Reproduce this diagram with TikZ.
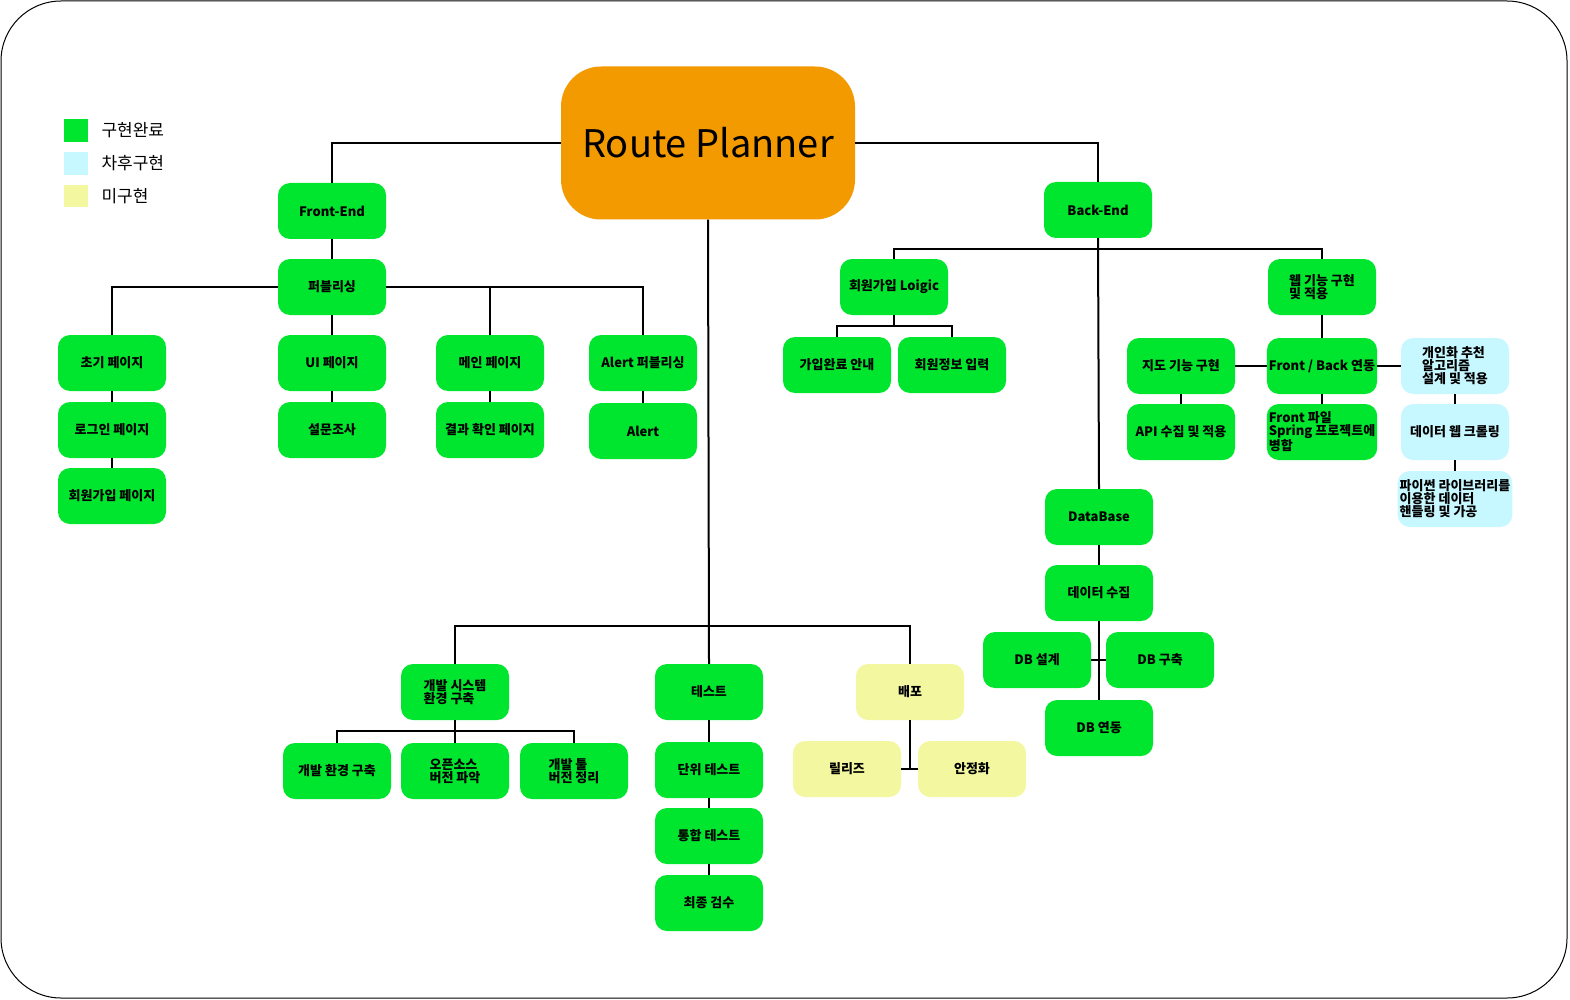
\documentclass[tikz,border=0pt]{standalone}
\usepackage{fontspec}
\setmainfont{Noto Sans CJK KR}
\newfontfamily\bfk{Noto Sans CJK KR Bold}
\definecolor{gdone}{HTML}{00E52E}
\definecolor{gfut}{HTML}{C8F8FF}
\definecolor{gnot}{HTML}{F2F7A0}
\definecolor{gorg}{HTML}{F29A00}
\begin{document}
\begin{tikzpicture}[x=1pt,y=-1pt,
 box/.style={rounded corners=12pt,minimum width=108pt,minimum height=56pt,inner sep=2pt,font=\fontsize{13}{13}\selectfont\bfseries,align=left,fill=gdone},
 fut/.style={box,fill=gfut},
 notb/.style={box,fill=gnot},
 ln/.style={line width=2pt}]
\useasboundingbox (0,0) rectangle (1570,1000);
\draw[line width=1pt,rounded corners=60pt] (1,1) rectangle (1567,998);
% legend
\fill[gdone] (64,119) rectangle (88,142);
\fill[gfut] (64,152) rectangle (88,175);
\fill[gnot] (64,185) rectangle (88,207);
\node[anchor=west,font=\fontsize{17}{17}\selectfont] (l1) at (98,130) {구현완료};
\node[anchor=west,font=\fontsize{17}{17}\selectfont] (l2) at (98,163) {차후구현};
\node[anchor=west,font=\fontsize{17}{17}\selectfont] (l3) at (98,196) {미구현};
% root
\node[fill=gorg,rounded corners=40pt,minimum width=294pt,minimum height=153pt,font=\fontsize{38}{38}\selectfont] (root) at (708,143) {Route Planner};
% front
\node[box] (fe) at (332,211) {Front-End};
\node[box] (pub) at (332,287) {퍼블리싱};
\node[box] (p1) at (112,363) {초기 페이지};
\node[box] (p2) at (112,430) {로그인 페이지};
\node[box] (p3) at (112,496) {회원가입 페이지};
\node[box] (u1) at (332,363) {UI 페이지};
\node[box] (u2) at (332,430) {설문조사};
\node[box] (m1) at (490,363) {메인 페이지};
\node[box] (m2) at (490,430) {결과 확인 페이지};
\node[box] (a1) at (643,363) {Alert 퍼블리싱};
\node[box] (a2) at (643,431) {Alert};
% middle
\node[box] (dev) at (455,692) {개발 시스템\\환경 구축};
\node[box] (tst) at (709,692) {테스트};
\node[notb] (dep) at (910,692) {배포};
\node[box] (d1) at (337,771) {개발 환경 구축};
\node[box] (d2) at (455,771) {오픈소스\\버전 파악};
\node[box] (d3) at (574,771) {개발 툴\\버전 정리};
\node[box] (t1) at (709,770) {단위 테스트};
\node[box] (t2) at (709,836) {통합 테스트};
\node[box] (t3) at (709,903) {최종 검수};
\node[notb] (r1) at (847,769) {릴리즈};
\node[notb] (r2) at (972,769) {안정화};
% back
\node[box] (be) at (1098,210) {Back-End};
\node[box] (mem) at (894,287) {회원가입 Loigic};
\node[box] (mem1) at (837,365) {가입완료 안내};
\node[box] (mem2) at (952,365) {회원정보 입력};
\node[box] (web) at (1322,287) {웹 기능 구현\\및 적용};
\node[box] (fb) at (1322,366) {Front / Back 연동};
\node[box] (fb2) at (1322,432) {Front 파일\\Spring 프로젝트에\\병합};
\node[box] (map) at (1181,366) {지도 기능 구현};
\node[box] (api) at (1181,432) {API 수집 및 적용};
\node[fut] (ai1) at (1455,366) {개인화 추천\\알고리즘\\설계 및 적용};
\node[fut] (ai2) at (1455,432) {데이터 웹 크롤링};
\node[fut] (ai3) at (1455,499) {파이썬 라이브러리를\\이용한 데이터\\핸들링 및 가공};
\node[box] (db) at (1099,517) {DataBase};
\node[box] (db1) at (1099,593) {데이터 수집};
\node[box] (db2) at (1037,660) {DB 설계};
\node[box] (db3) at (1160,660) {DB 구축};
\node[box] (db4) at (1099,728) {DB 연동};
% connectors
\begin{scope}[on background layer/.style={}]
\end{scope}
\draw[ln] (root.west) -| (fe.north);
\draw[ln] (root.east) -| (be.north);
\draw[ln] (fe) -- (pub);
\draw[ln] (pub.west) -| (p1.north);
\draw[ln] (pub.east) -| (a1.north);
\draw[ln] (490,287) -- (m1.north);
\draw[ln] (pub) -- (u1);
\draw[ln] (p1) -- (p2); \draw[ln] (p2) -- (p3);
\draw[ln] (u1) -- (u2); \draw[ln] (m1) -- (m2); \draw[ln] (a1) -- (a2);
\draw[ln] (root.south) -- (tst.north);
\draw[ln] (dev.north) |- (709,626) -| (dep.north);
\draw[ln] (dev.south) -- (d2.north);
\draw[ln] (d1.north) |- (455,731) -| (d3.north);
\draw[ln] (tst) -- (t1); \draw[ln] (t1) -- (t2); \draw[ln] (t2) -- (t3);
\draw[ln] (dep.south) |- (r2.west);
\draw[ln] (910,769) -- (r1.east);
\draw[ln] (be.south) -- (db.north);
\draw[ln] (mem.north) |- (1099,249) -| (web.north);
\draw[ln] (mem.south) -- (894,326);
\draw[ln] (mem1.north) |- (894,326) -| (mem2.north);
\draw[ln] (web) -- (fb);
\draw[ln] (fb) -- (fb2);
\draw[ln] (map) -- (fb);
\draw[ln] (map) -- (api);
\draw[ln] (fb) -- (ai1);
\draw[ln] (ai1) -- (ai2); \draw[ln] (ai2) -- (ai3);
\draw[ln] (db) -- (db1); \draw[ln] (db1) -- (db4);
\draw[ln] (db2) -- (db3);
\end{tikzpicture}
\end{document}
